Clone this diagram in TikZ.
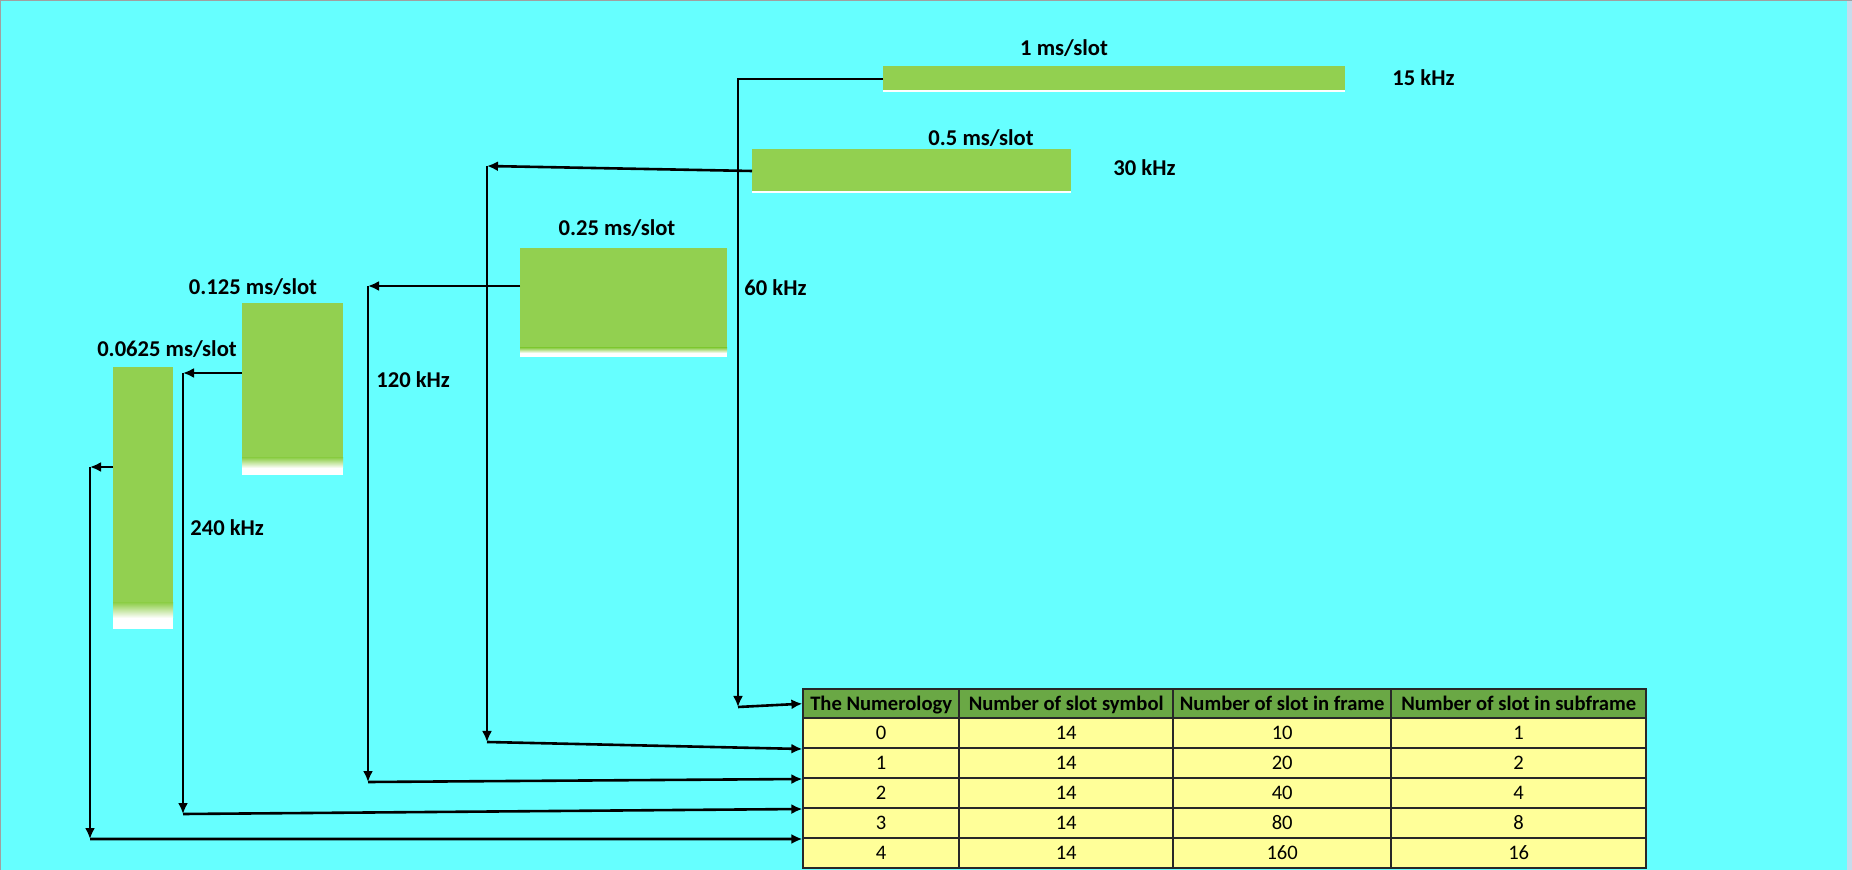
\documentclass[tikz,border=0pt]{standalone}
\usepackage{fontspec}
\setmainfont{Carlito}
\usetikzlibrary{matrix,arrows.meta}
\definecolor{bgcyan}{RGB}{102,255,255}
\definecolor{bargreen}{RGB}{146,208,80}
\definecolor{hdrgreen}{RGB}{106,168,69}
\definecolor{rowyellow}{RGB}{255,255,153}
\definecolor{framegray}{RGB}{160,160,160}
\definecolor{edgeblue}{RGB}{198,220,236}
\definecolor{tabline}{RGB}{40,40,40}
\newcommand{\lblfont}{\fontsize{11.3}{13}\selectfont\bfseries}
\newcommand{\tabfont}{\fontsize{10.3}{12}\selectfont}

\begin{document}
\begin{tikzpicture}[>={Latex[length=5.5pt,width=5pt]}, x=0.5pt, y=-0.5pt,
	slotbar/.style={fill=bargreen, inner sep=0pt, outer sep=0pt, anchor=north west},
	lbl/.style={font=\lblfont, inner sep=0pt},
	wire/.style={line width=1.3pt, ->}]

	% page
	\useasboundingbox (0,0) rectangle (1852,870);
	\fill[bgcyan] (0,0) rectangle (1852,870);
	\fill[edgeblue] (1847,0) rectangle (1852,870);
	\draw[framegray, line width=0.8pt] (0.4,870) -- (0.4,0.4) -- (1852,0.4);

	% slot bars
	\node[slotbar, minimum width=231pt, minimum height=13pt] (b0) at (883,66) {};
	\node[slotbar, minimum width=159.5pt, minimum height=22pt] (b1) at (752,149) {};
	\node[slotbar, minimum width=103.5pt, minimum height=54.5pt] (b2) at (520,248) {};
	\node[slotbar, minimum width=50.5pt, minimum height=86pt] (b3) at (242,303) {};
	\node[slotbar, minimum width=30pt, minimum height=131pt] (b4) at (113,367) {};

	% faded bottoms
	\fill[white] ([yshift=1pt]b0.south west) rectangle (b0.south east);
	\fill[white] ([yshift=1.2pt]b1.south west) rectangle (b1.south east);
	\shade[top color=bargreen, bottom color=white] ([yshift=4.5pt]b2.south west) rectangle ([yshift=2pt]b2.south east);
	\fill[white] ([yshift=2pt]b2.south west) rectangle (b2.south east);
	\shade[top color=bargreen, bottom color=white] ([yshift=8.5pt]b3.south west) rectangle ([yshift=3.5pt]b3.south east);
	\fill[white] ([yshift=3.5pt]b3.south west) rectangle (b3.south east);
	\shade[top color=bargreen, bottom color=white] ([yshift=13pt]b4.south west) rectangle ([yshift=5.5pt]b4.south east);
	\fill[white] ([yshift=5.5pt]b4.south west) rectangle (b4.south east);

	% labels
	\node[lbl] (l0) at (1064,48) {1 ms/slot};
	\node[lbl] (l1) at (981,138) {0.5 ms/slot};
	\node[lbl] (l2) at (617,228) {0.25 ms/slot};
	\node[lbl] (l3) at (253,287) {0.125 ms/slot};
	\node[lbl] (l4) at (167,349) {0.0625 ms/slot};

	\node[lbl, anchor=west] (f0) at (1392,78) {15 kHz};
	\node[lbl, anchor=west] (f1) at (1113,168) {30 kHz};
	\node[lbl, anchor=west] (f2) at (744,288) {60 kHz};
	\node[lbl, anchor=west] (f3) at (376,380) {120 kHz};
	\node[lbl, anchor=west] (f4) at (190,528) {240 kHz};

	% table
	\matrix (tab) [matrix of nodes, anchor=north west, inner sep=0pt,
		column sep=-0.8pt, row sep=-0.8pt,
		nodes={draw=tabline, line width=0.8pt, fill=rowyellow, inner sep=0pt,
			align=flush center, text height=10.8pt, text depth=4.2pt, font=\tabfont},
		row 1/.style={nodes={fill=hdrgreen, font=\tabfont\bfseries,
			text height=10.5pt, text depth=4pt}},
		column 1/.style={nodes={text width=78pt}},
		column 2/.style={nodes={text width=107pt}},
		column 3/.style={nodes={text width=109pt}},
		column 4/.style={nodes={text width=127.5pt}}] at (802,688) {
		The Numerology & Number of slot symbol & Number of slot in frame & Number of slot in subframe \\
		0 & 14 & 10 & 1 \\
		1 & 14 & 20 & 2 \\
		2 & 14 & 40 & 4 \\
		3 & 14 & 80 & 8 \\
		4 & 14 & 160 & 16 \\
	};

	% corners
	\coordinate (c0) at (738,79);
	\coordinate (d0) at (738,707);
	\coordinate (c1) at (487,166);
	\coordinate (d1) at (487,742);
	\coordinate (c2) at (368,286);
	\coordinate (d2) at (368,782);
	\coordinate (c3) at (183,373);
	\coordinate (d3) at (183,814);
	\coordinate (c4) at (90,467);
	\coordinate (d4) at (90,839);

	% connectors
	\draw[wire] (b0.west) -- (c0) -- (d0);
	\draw[wire] (d0) -- (tab-1-1.west);

	\draw[wire] (b1.west) -- (c1);
	\draw[wire] (c1) -- (d1);
	\draw[wire] (d1) -- (tab-2-1.south west);

	\draw[wire] (b2.west |- c2) -- (c2);
	\draw[wire] (c2) -- (d2);
	\draw[wire] (d2) -- (tab-3-1.south west);

	\draw[wire] (b3.west |- c3) -- (c3);
	\draw[wire] (c3) -- (d3);
	\draw[wire] (d3) -- (tab-4-1.south west);

	\draw[wire] (b4.west |- c4) -- (c4);
	\draw[wire] (c4) -- (d4);
	\draw[wire] (d4) -- (tab-5-1.south west);

\end{tikzpicture}
\end{document}
